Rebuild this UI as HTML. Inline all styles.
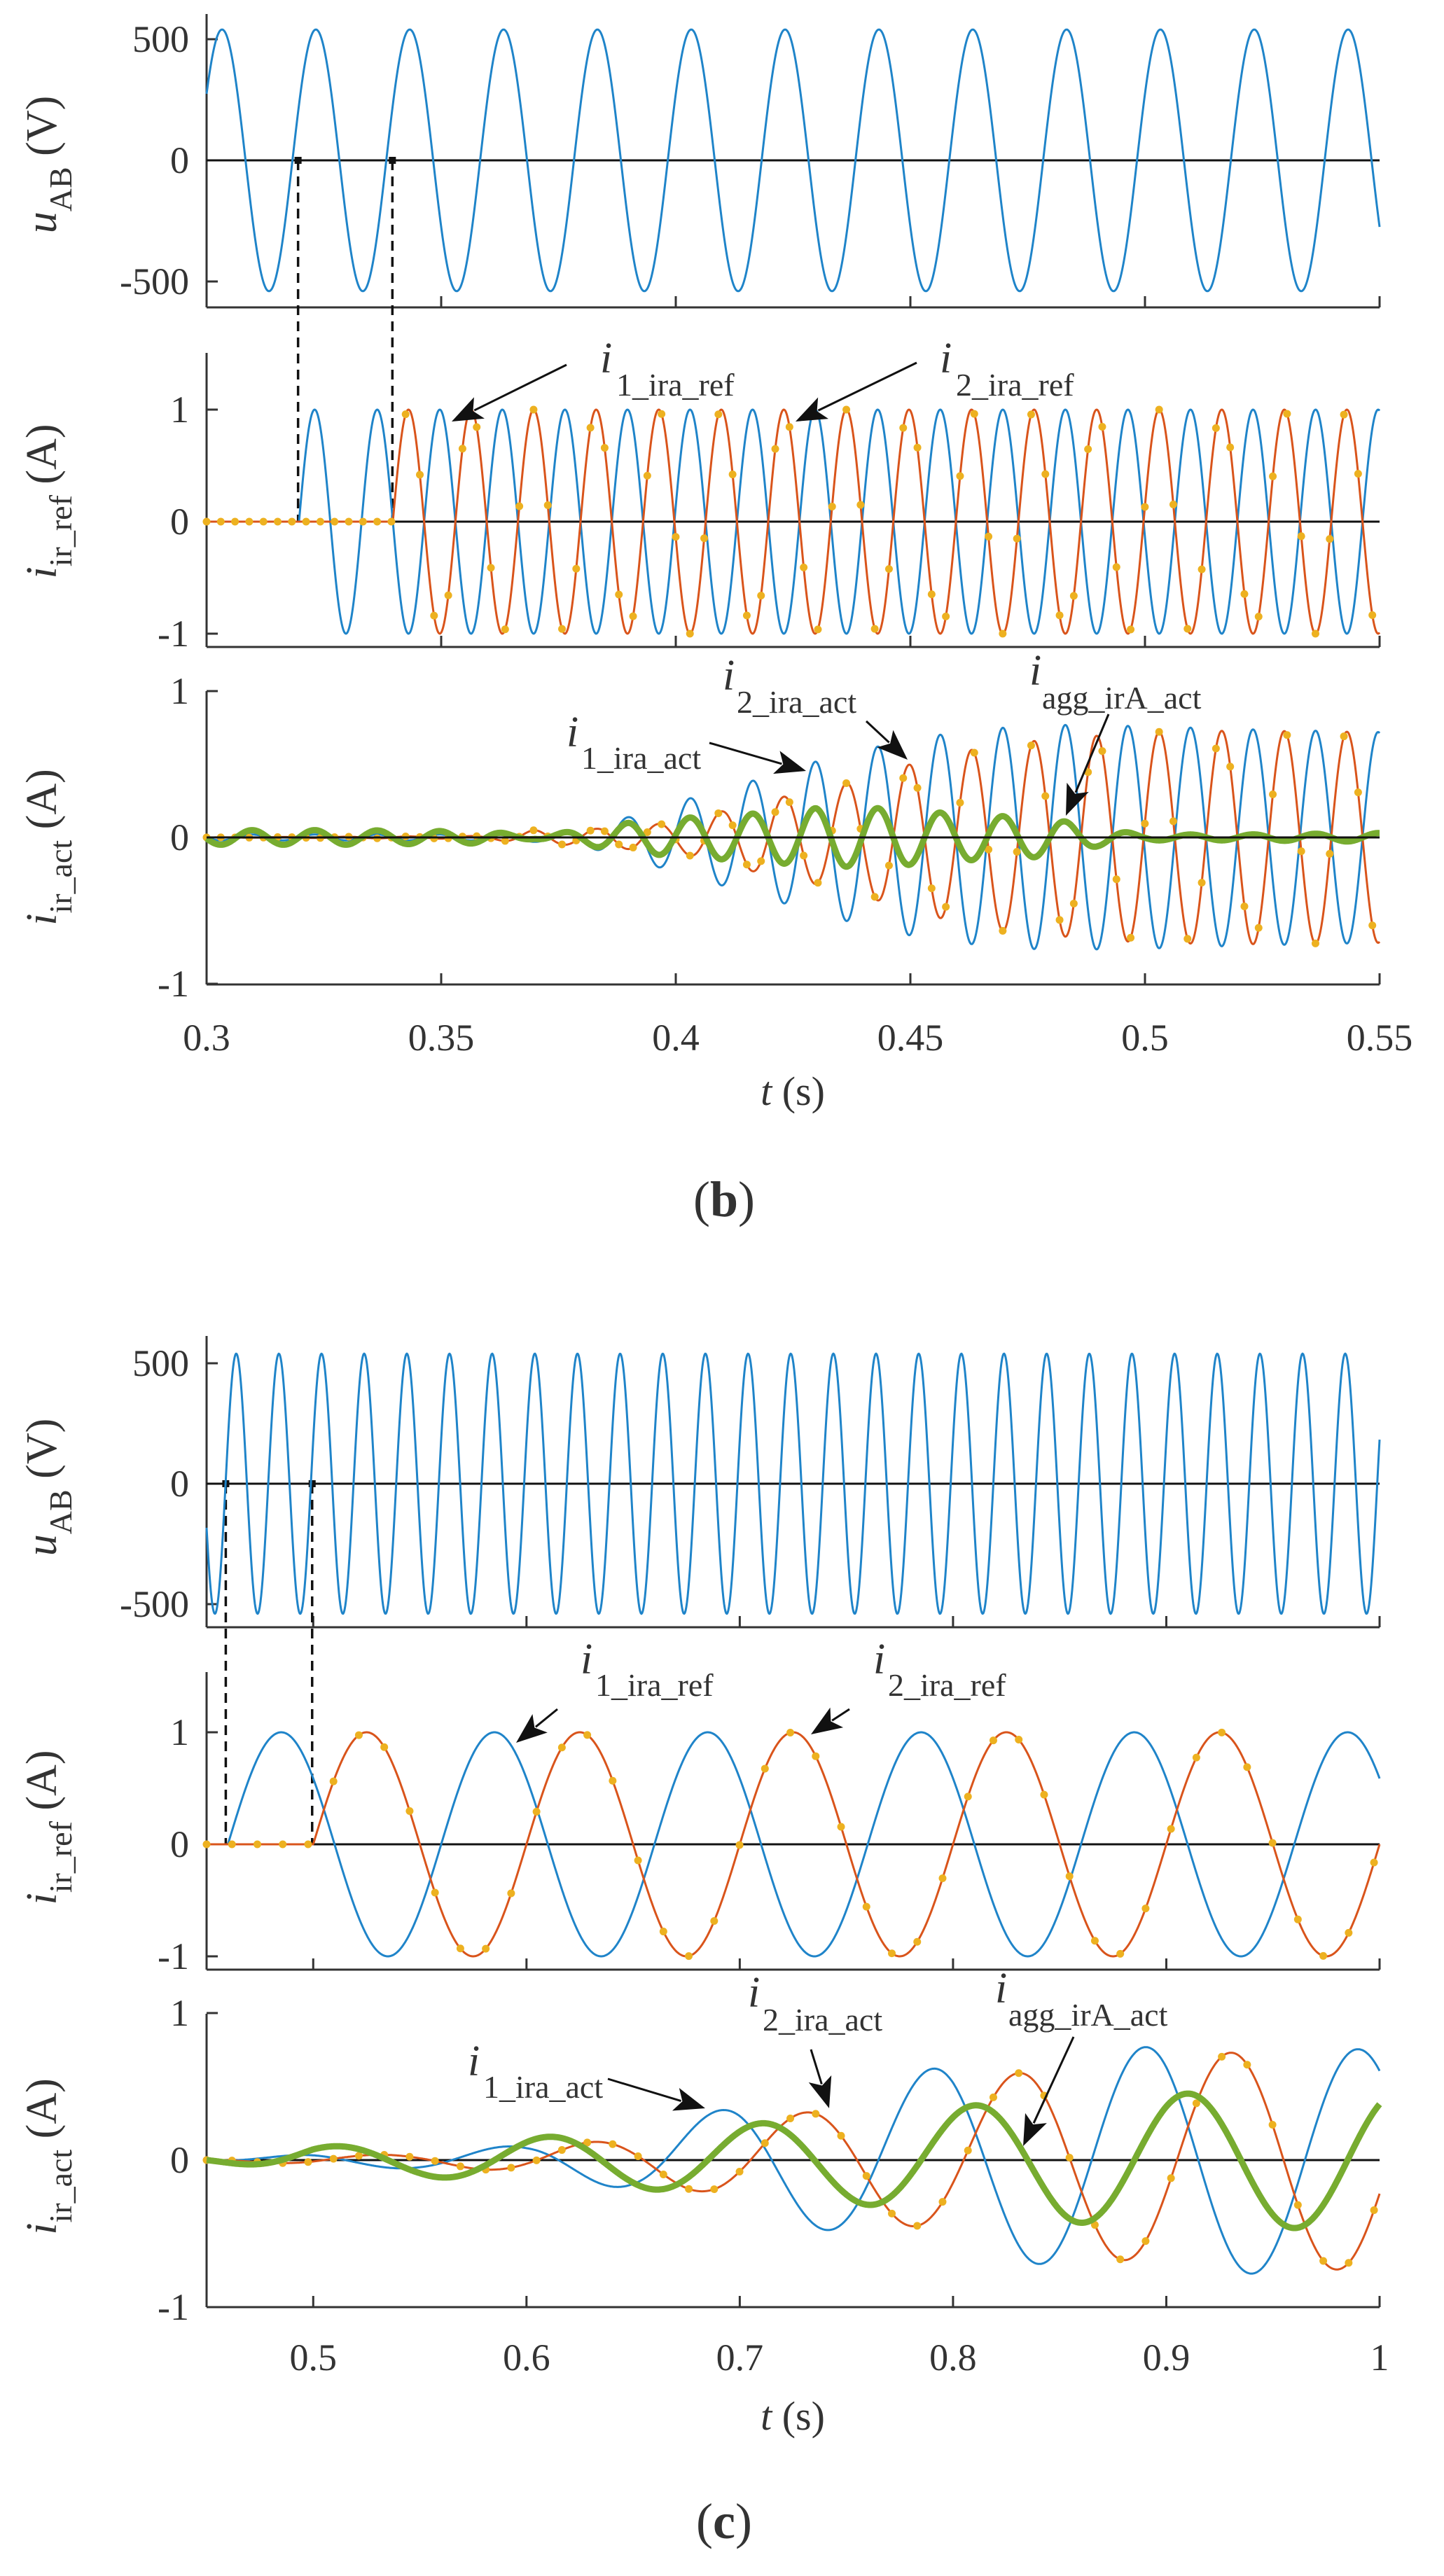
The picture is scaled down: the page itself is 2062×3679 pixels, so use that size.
<!DOCTYPE html>
<html><head><meta charset="utf-8">
<style>
html,body{margin:0;padding:0;background:#fff;}
svg{display:block;font-family:"Liberation Serif","DejaVu Serif",serif;}
text,tspan{font-family:"Liberation Serif","DejaVu Serif",serif;}
text{fill:#333;}
</style></head>
<body>
<svg id="fig" width="2062" height="3679" viewBox="0 0 2062 3679" xmlns="http://www.w3.org/2000/svg" font-family="Liberation Serif, DejaVu Serif, serif"></svg>
<script>
// ---------- data ----------
const bTicks = [0.3,0.35,0.4,0.45,0.5,0.55];
const bTickLabels = ["0.3","0.35","0.4","0.45","0.5","0.55"];
const cTicks = [0.5,0.6,0.7,0.8,0.9,1.0];
const cTickLabels = ["0.5","0.6","0.7","0.8","0.9","1"];
const uTicks = [500,0,-500];
const uTickLabels = ["500","0","-500"];
const iTicks = [1,0,-1];
const iTickLabels = ["1","0","-1"];

// voltage: [amplitude V, frequency Hz, rising zero crossing s]
const uB = [540, 50, 0.3183];
const uC = [540, 50, 0.4589];
// reference currents: [amplitude, frequency, start time]
const bRef1 = [1, 75, 0.3197];
const bRef2 = [1, 75, 0.3397];
const cRef1 = [1, 10, 0.46];
const cRef2 = [1, 10, 0.50];
// dashed start markers
const bStarts = [0.3195, 0.3396];
const cStarts = [0.459, 0.4995];

// actual currents (b): peak envelope per time
const bActT  = [0.30,0.36,0.37,0.38,0.39,0.40,0.41,0.42,0.43,0.44,0.45,0.46,0.47,0.48,0.50,0.52,0.55];
const bAct1A = [0.02,0.02,0.03,0.06,0.14,0.24,0.33,0.42,0.52,0.60,0.67,0.72,0.75,0.77,0.76,0.74,0.72];
const bAct2A = [0.00,0.01,0.05,0.05,0.08,0.10,0.18,0.26,0.32,0.40,0.50,0.58,0.64,0.67,0.72,0.73,0.72];
const bAggT  = [0.30,0.33,0.36,0.37,0.38,0.39,0.40,0.42,0.43,0.445,0.46,0.48,0.49,0.50,0.52,0.55];
const bAggA  = [0.05,0.05,0.04,0.01,0.05,0.10,0.13,0.17,0.20,0.20,0.16,0.13,0.06,0.02,0.02,0.03];
// actual currents (c)
const cActT  = [0.45,0.50,0.55,0.60,0.65,0.70,0.75,0.80,0.85,0.90,0.95,1.00];
const cAct1A = [0.00,0.04,0.06,0.10,0.20,0.37,0.50,0.65,0.72,0.78,0.77,0.75];
const cAct2A = [0.00,0.03,0.04,0.08,0.15,0.25,0.37,0.50,0.65,0.70,0.75,0.74];
const cAggA  = [0.00,0.09,0.11,0.15,0.19,0.24,0.29,0.36,0.42,0.45,0.46,0.47];
// phase reference times (s)
const bActPhase = [0.3197, 0.3397, 0.3197];
const cActPhase = [0.465, 0.505, 0.485];
// marker spacing (s)
const bMarkStep = [0.00303];
const cMarkStep = [0.0119];

// ---------- layout ----------
const NS = "http://www.w3.org/2000/svg";
const svg = document.getElementById('fig');
const BLUE="#1f84c9", ORANGE="#d9541b", YEL="#edb120", GREEN="#77ac30", AX="#333";
const FF = "Liberation Serif, DejaVu Serif, serif";

function mk(tag, attrs, parent){
  const e = document.createElementNS(NS, tag);
  for (const k in attrs) e.setAttribute(k, attrs[k]);
  if (tag==='text') e.setAttribute('font-family', FF);
  (parent||svg).appendChild(e);
  return e;
}
function interp(ts, as, t){
  if (t<=ts[0]) return as[0];
  for (let i=1;i<ts.length;i++){ if (t<=ts[i]){ const f=(t-ts[i-1])/(ts[i]-ts[i-1]); return as[i-1]+f*(as[i]-as[i-1]); } }
  return as[as.length-1];
}
function makeX(t0,t1,p0,p1){ return t=>p0+(t-t0)/(t1-t0)*(p1-p0); }
function makeY(zero,scale,unit){ return v=>zero - v/unit*scale; }

function panel(name, X, xr, Y, top, bottom, ticksY, tickLabY, xTicks){
  const g = mk('g',{});
  
  
  const L = X(xr[0]), R = X(xr[1]);
  mk('line',{x1:L,y1:top,x2:L,y2:bottom,stroke:AX,'stroke-width':3},g);
  mk('line',{x1:L,y1:bottom,x2:R,y2:bottom,stroke:AX,'stroke-width':3},g);
  ticksY.forEach((v,i)=>{
    mk('line',{x1:L,y1:Y(v),x2:L+16,y2:Y(v),stroke:AX,'stroke-width':3},g);
    const t = mk('text',{x:270,y:Y(v)+18,'text-anchor':'end','font-size':54},g);
    t.textContent = tickLabY[i];
    
    
  });
  xTicks.forEach(v=>{
    mk('line',{x1:X(v),y1:bottom,x2:X(v),y2:bottom-16,stroke:AX,'stroke-width':3},g);
  });
  mk('line',{x1:L,y1:Y(0),x2:R,y2:Y(0),stroke:"#111",'stroke-width':3},g);
  return g;
}
function curve(name, X, xr, Y, fn, color, width, t0){
  const L = Math.round(X(xr[0])), R = Math.round(X(xr[1]));
  let d = "";
  const tt0 = (t0===undefined)? xr[0] : t0;
  const xs = Math.round(X(tt0));
  for (let px = Math.max(L,xs); px<=R; px++){
    const t = xr[0] + (px-X(xr[0]))/(X(xr[1])-X(xr[0]))*(xr[1]-xr[0]);
    d += (d?"L":"M") + px + "," + Y(fn(t)).toFixed(1);
  }
  const p = mk('path',{d:d,fill:'none',stroke:color,'stroke-width':width,'stroke-linejoin':'round'});
  
  
  return p;
}
function markers(name, X, xr, Y, fn, step){
  const g = mk('g',{});
  
  
  for (let t = xr[0]; t <= xr[1]+1e-9; t += step){
    mk('circle',{cx:X(t),cy:Y(fn(t)),r:5.5,fill:YEL},g);
  }
}
function sinw(a,f,t0,t){ return a*Math.sin(2*Math.PI*f*(t-t0)); }
function refw(arr,t){ return t<arr[2]?0:sinw(arr[0],arr[1],arr[2],t); }

function ylabel(name, x, y, main, sub, unit){
  const t = mk('text',{transform:`translate(${x},${y}) rotate(-90)`,'text-anchor':'middle','font-size':62});
  
  
  const a = mk('tspan',{'font-style':'italic'},t); a.textContent = main;
  const b = mk('tspan',{'font-size':46,dy:22},t); b.textContent = sub;
  const c = mk('tspan',{dy:-22},t); c.textContent = "\u00a0(" + unit + ")";
}
function annot(name, ix, iy, sx, sy, sub, ax1, ay1, ax2, ay2){
  const g = mk('g',{});
  
  
  const a = mk('text',{x:ix,y:iy,'font-size':62,'font-style':'italic',fill:'#222'},g); a.textContent='i';
  const b = mk('text',{x:sx,y:sy,'font-size':46,fill:'#222'},g); b.textContent=sub;
  const dx=ax2-ax1, dy=ay2-ay1, len=Math.hypot(dx,dy), ux=dx/len, uy=dy/len;
  const hl=44, hw=17;
  const bx=ax2-ux*hl, by=ay2-uy*hl;
  mk('line',{x1:ax1,y1:ay1,x2:bx+ux*8,y2:by+uy*8,stroke:'#111','stroke-width':3},g);
  const nx=-uy, ny=ux;
  const pts=[[ax2,ay2],[bx+nx*hw,by+ny*hw],[bx+ux*10,by+uy*10],[bx-nx*hw,by-ny*hw]];
  mk('polygon',{points:pts.map(p=>p.join(',')).join(' '),fill:'#111'},g);
}
function xlabels(X, ticks, labels, y, ty, tx, cap, capx, capy){
  ticks.forEach((v,i)=>{
    const t = mk('text',{x:X(v),y:y,'text-anchor':'middle','font-size':54});
    t.textContent = labels[i];
    
    
  });
  const t = mk('text',{x:tx,y:ty,'text-anchor':'middle','font-size':58});
  
  
  const a = mk('tspan',{'font-style':'italic'},t); a.textContent='t';
  const b = mk('tspan',{},t); b.textContent=' (s)';
  const c = mk('text',{x:capx,y:capy,'text-anchor':'middle','font-size':72,fill:'#000'});
  
  
  const c1 = mk('tspan',{},c); c1.textContent='(';
  const c2 = mk('tspan',{'font-weight':'bold'},c); c2.textContent=cap;
  const c3 = mk('tspan',{},c); c3.textContent=')';
}
function dashes(name, X, starts, y1, y2){
  starts.forEach(s=>{
    const l = mk('line',{x1:X(s),y1:y1,x2:X(s),y2:y2,stroke:'#111','stroke-width':3.5,'stroke-dasharray':'14,9'});
    
    
    mk('rect',{x:X(s)-5,y:y1-5,width:10,height:10,fill:'#111'});
  });
}

// ================= panel (b) =================
const xrB=[0.3,0.55], XB = makeX(0.3,0.55,295,1970);
const YbU = makeY(229,173,500), YbR = makeY(745,160,1), YbA = makeY(1196,209,1);
panel('b-voltage-panel', XB, xrB, YbU, 20, 439, uTicks, uTickLabels, bTicks);
panel('b-ref-panel', XB, xrB, YbR, 504, 924, iTicks, iTickLabels, bTicks);
panel('b-act-panel', XB, xrB, YbA, 987, 1406, iTicks, iTickLabels, bTicks);
dashes('b-start-dash', XB, bStarts, YbU(0), YbR(0));
curve('b-uab-line', XB, xrB, YbU, t=>sinw(uB[0],uB[1],uB[2],t), BLUE, 3);
curve('b-ref1-line', XB, xrB, YbR, t=>refw(bRef1,t), BLUE, 3);
curve('b-ref2-line', XB, xrB, YbR, t=>refw(bRef2,t), ORANGE, 3);
markers('b-ref2-markers', XB, xrB, YbR, t=>refw(bRef2,t), bMarkStep[0]);
const bA1 = t=>sinw(interp(bActT,bAct1A,t),75,bActPhase[0],t);
const bA2 = t=>sinw(interp(bActT,bAct2A,t),75,bActPhase[1],t);
const bAg = t=>sinw(interp(bAggT,bAggA,t),75,bActPhase[2],t);
curve('b-act1-line', XB, xrB, YbA, bA1, BLUE, 3);
curve('b-act2-line', XB, xrB, YbA, bA2, ORANGE, 3);
markers('b-act2-markers', XB, xrB, YbA, bA2, bMarkStep[0]);
curve('b-agg-line', XB, xrB, YbA, bAg, GREEN, 9);
mk('line',{x1:295,y1:YbA(0),x2:1970,y2:YbA(0),stroke:'#111','stroke-width':3});
ylabel('b-voltage-y-title', 80, 235, 'u', 'AB', 'V');
ylabel('b-ref-y-title', 80, 716, 'i', 'ir_ref', 'A');
ylabel('b-act-y-title', 80, 1210, 'i', 'ir_act', 'A');
annot('b-i1-ref-label', 857,532, 880,565, '1_ira_ref', 809,521, 645,602);
annot('b-i2-ref-label', 1342,532, 1365,565, '2_ira_ref', 1309,518, 1136,602);
annot('b-i2-act-label', 1032,985, 1052,1018, '2_ira_act', 1237,1030, 1296,1085);
annot('b-i1-act-label', 809,1066, 830,1098, '1_ira_act', 1013,1061, 1151,1101);
annot('b-agg-act-label', 1470,978, 1488,1012, 'agg_irA_act', 1583,1020, 1522,1165);
xlabels(XB, bTicks, bTickLabels, 1500, 1578, 1132, 'b', 1034, 1737);

// ================= panel (c) =================
const xrC=[0.45,1.0], XC = makeX(0.45,1.0,295,1970);
const YcU = makeY(2119,172,500), YcR = makeY(2634,160,1), YcA = makeY(3085,210,1);
panel('c-voltage-panel', XC, xrC, YcU, 1908, 2324, uTicks, uTickLabels, cTicks);
panel('c-ref-panel', XC, xrC, YcR, 2388, 2813, iTicks, iTickLabels, cTicks);
panel('c-act-panel', XC, xrC, YcA, 2876, 3295, iTicks, iTickLabels, cTicks);
dashes('c-start-dash', XC, cStarts, YcU(0), YcR(0));
curve('c-uab-line', XC, xrC, YcU, t=>sinw(uC[0],uC[1],uC[2],t), BLUE, 3);
curve('c-ref1-line', XC, xrC, YcR, t=>refw(cRef1,t), BLUE, 3);
curve('c-ref2-line', XC, xrC, YcR, t=>refw(cRef2,t), ORANGE, 3);
markers('c-ref2-markers', XC, xrC, YcR, t=>refw(cRef2,t), cMarkStep[0]);
const cA1 = t=>sinw(interp(cActT,cAct1A,t),10,cActPhase[0],t);
const cA2 = t=>sinw(interp(cActT,cAct2A,t),10,cActPhase[1],t);
const cAg = t=>sinw(interp(cActT,cAggA,t),10,cActPhase[2],t);
curve('c-act1-line', XC, xrC, YcA, cA1, BLUE, 3);
curve('c-act2-line', XC, xrC, YcA, cA2, ORANGE, 3);
markers('c-act2-markers', XC, xrC, YcA, cA2, cMarkStep[0]);
curve('c-agg-line', XC, xrC, YcA, cAg, GREEN, 9);
ylabel('c-voltage-y-title', 80, 2124, 'u', 'AB', 'V');
ylabel('c-ref-y-title', 80, 2610, 'i', 'ir_ref', 'A');
ylabel('c-act-y-title', 80, 3080, 'i', 'ir_act', 'A');
annot('c-i1-ref-label', 829,2390, 850,2422, '1_ira_ref', 796,2441, 737,2489);
annot('c-i2-ref-label', 1247,2390, 1268,2422, '2_ira_ref', 1213,2441, 1158,2477);
annot('c-i2-act-label', 1068,2866, 1089,2900, '2_ira_act', 1158,2927, 1184,3011);
annot('c-i1-act-label', 668,2964, 690,2996, '1_ira_act', 868,2969, 1007,3011);
annot('c-agg-act-label', 1421,2860, 1440,2893, 'agg_irA_act', 1533,2909, 1461,3065);
xlabels(XC, cTicks, cTickLabels, 3385, 3470, 1132, 'c', 1034, 3625);
</script>
</body></html>
